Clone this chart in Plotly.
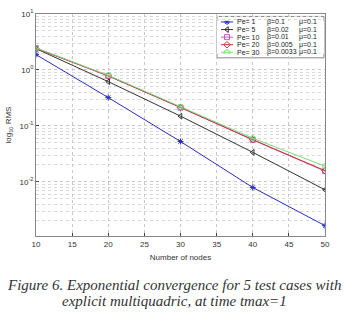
import plotly.graph_objects as go

nodes = [10, 20, 30, 40, 50]
pe_labels = ["Pe= 1", "Pe= 5", "Pe= 10", "Pe= 20", "Pe= 30"]
beta_labels = ["β=0.1", "β=0.02", "β=0.01", "β=0.005", "β=0.0033"]
mu_labels = ["μ=0.1", "μ=0.1", "μ=0.1", "μ=0.1", "μ=0.1"]
rms_pe1 = [1.88, 0.32, 0.0525, 0.0079, 0.00164]
rms_pe5 = [2.40, 0.617, 0.149, 0.0336, 0.0072]
rms_pe10 = [2.45, 0.78, 0.212, 0.0560, 0.0155]
rms_pe20 = [2.43, 0.785, 0.214, 0.0567, 0.0158]
rms_pe30 = [2.48, 0.80, 0.220, 0.0600, 0.0190]
y_tickvals = [0.01, 0.1, 1, 10]
y_ticktext = ["10<sup>-2</sup>", "10<sup>-1</sup>", "10<sup>0</sup>", "10<sup>1</sup>"]
x_tickvals = [10, 15, 20, 25, 30, 35, 40, 45, 50]

series = [rms_pe1, rms_pe5, rms_pe10, rms_pe20, rms_pe30]
colors = ["#2b2bc8", "#333333", "#cc55cc", "#cc3333", "#77dd77"]
symbols = ["asterisk-open", "triangle-left-open", "square-open", "diamond-open", "circle-open"]

fig = go.Figure()
for vals, c, s, n in zip(series, colors, symbols, pe_labels):
    fig.add_trace(go.Scatter(
        x=nodes, y=vals, mode="lines+markers", name=n,
        line=dict(color=c, width=1),
        marker=dict(symbol=s, size=5, color=c, line=dict(color=c, width=1)),
        showlegend=False, xaxis="x", yaxis="y"))

W, H = 348, 313
L, R, T, B = 36, 23, 8, 77
pw, ph = W - L - R, H - T - B

# custom legend drawn on a small auxiliary axis (1 unit = 1 px)
lg_px0, lg_px1 = 217, 324
nrows = len(pe_labels)
row_y = [nrows - 1 - i for i in range(nrows)]
for i, (c, s) in enumerate(zip(colors, symbols)):
    fig.add_trace(go.Scatter(
        x=[4, 10, 16], y=[row_y[i]] * 3, mode="lines",
        line=dict(color=c, width=1), showlegend=False, hoverinfo="skip",
        xaxis="x2", yaxis="y2"))
    fig.add_trace(go.Scatter(
        x=[10], y=[row_y[i]], mode="markers",
        marker=dict(symbol=s, size=5, color=c, line=dict(color=c, width=1)),
        showlegend=False, hoverinfo="skip", xaxis="x2", yaxis="y2"))
    for lab, xp in ((pe_labels[i], 20), (beta_labels[i], 50), (mu_labels[i], 82)):
        fig.add_annotation(x=xp, y=row_y[i], xref="x2", yref="y2", text=lab,
                           showarrow=False, xanchor="left", yanchor="middle",
                           xshift=-2,
                           font=dict(size=7, color="#222", family="Liberation Sans"))

ly0, ly1 = 10.5, 53
fig.add_shape(type="rect", xref="paper", yref="paper",
              x0=(lg_px0 - L) / pw, x1=(lg_px1 - L) / pw,
              y0=1 - (ly1 - T) / ph, y1=1 - (ly0 - T) / ph,
              line=dict(color="#888", width=1), fillcolor="white", layer="between")

lg_x0, lg_x1 = (lg_px0 - L) / pw, (lg_px1 - L) / pw
lg_y0, lg_y1 = 1 - (48.5 - T) / ph, 1 - (15 - T) / ph

grid = dict(showgrid=True, gridcolor="#c8c8c8", griddash="dot", gridwidth=1)
fig.update_layout(
    width=W, height=H, margin=dict(l=L, r=R, t=T, b=B),
    paper_bgcolor="white", plot_bgcolor="white",
    font=dict(family="Liberation Sans", size=8, color="#333"),
    xaxis=dict(range=[10, 50], tickvals=x_tickvals, ticks="inside", ticklen=3,
               showline=True, linecolor="#888", mirror=True, zeroline=False,
               title=dict(text="Number of nodes", font=dict(size=8), standoff=6),
               tickfont=dict(size=8), **grid),
    yaxis=dict(type="log", range=[-2.97, 1], tickvals=y_tickvals, ticktext=y_ticktext,
               ticks="inside", ticklen=3, showline=True, linecolor="#888", mirror=True,
               title=dict(text="log<sub>10</sub> RMS", font=dict(size=8), standoff=6),
               tickfont=dict(size=8),
               minor=dict(dtick="D1", showgrid=True, gridcolor="#d8d8d8", griddash="dot",
                          ticks=""),
               **grid),
    xaxis2=dict(domain=[lg_x0, lg_x1], range=[0, lg_px1 - lg_px0], visible=False,
                anchor="y2", fixedrange=True),
    yaxis2=dict(domain=[lg_y0, lg_y1], range=[-0.15, 4.15], visible=False,
                anchor="x2", fixedrange=True),
)

caption_font = dict(family="Liberation Serif", size=15, color="#333")
cx = (W / 2 - L) / pw
fig.add_annotation(x=cx, y=1 - (286 - T) / ph, xref="paper", yref="paper",
                   xanchor="center", yanchor="middle", showarrow=False,
                   text="<i>Figure 6. Exponential convergence for 5 test cases with</i>",
                   font=caption_font)
fig.add_annotation(x=cx, y=1 - (303 - T) / ph, xref="paper", yref="paper",
                   xanchor="center", yanchor="middle", showarrow=False,
                   text="<i>explicit multiquadric, at time tmax=1</i>",
                   font=caption_font)

fig.write_html("out.html", config={"displayModeBar": False},
               post_script="document.body.style.margin='0';document.body.style.padding='0';")
